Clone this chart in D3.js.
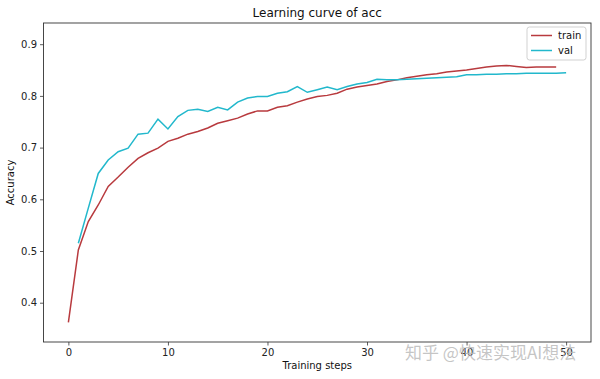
<!DOCTYPE html>
<html>
<head>
<meta charset="utf-8">
<script src="https://cdn.jsdelivr.net/npm/d3@7"></script>
<style>
  html, body { margin: 0; padding: 0; background: #fff; }
  svg { display: block; }
  text { font-family: "DejaVu Sans", sans-serif; }
</style>
</head>
<body>
<svg id="chart" width="600" height="379"></svg>
<script>
const titleText = "Learning curve of acc";
const xLabel = "Training steps";
const yLabel = "Accuracy";
const seriesNames = ["train", "val"];
const xTicks = [0, 10, 20, 30, 40, 50];
const yTicks = [0.4, 0.5, 0.6, 0.7, 0.8, 0.9];
const trainSteps = d3.range(0, 50);
const trainAcc = [0.362, 0.502, 0.557, 0.589, 0.625, 0.643, 0.662, 0.679, 0.690, 0.699,
  0.712, 0.718, 0.726, 0.731, 0.738, 0.747, 0.752, 0.757, 0.765, 0.771,
  0.771, 0.778, 0.781, 0.788, 0.794, 0.799, 0.801, 0.805, 0.813, 0.817,
  0.820, 0.823, 0.828, 0.831, 0.835, 0.838, 0.841, 0.843, 0.846, 0.848,
  0.850, 0.853, 0.856, 0.858, 0.859, 0.857, 0.855, 0.856, 0.856, 0.856];
const valSteps = d3.range(1, 51);
const valAcc = [0.515, 0.583, 0.650, 0.676, 0.692, 0.699, 0.726, 0.728, 0.755, 0.736,
  0.760, 0.772, 0.774, 0.770, 0.778, 0.773, 0.788, 0.796, 0.799, 0.799,
  0.805, 0.808, 0.818, 0.807, 0.812, 0.817, 0.812, 0.818, 0.823, 0.826,
  0.832, 0.831, 0.831, 0.832, 0.833, 0.834, 0.835, 0.836, 0.837, 0.841,
  0.841, 0.842, 0.842, 0.843, 0.843, 0.844, 0.844, 0.844, 0.844, 0.845];
const watermark = "知乎 @快速实现AI想法";

const colors = { train: "#b83a3e", val: "#22b8cc" };
const L = 43.5, R = 591, T = 23, B = 342;

const svg = d3.select("#chart");
const x = d3.scaleLinear().domain([-2.5, 52.5]).range([L, R]);
const y = d3.scaleLinear().domain([0.324, 0.941]).range([B, T]);

// axes
const xAxis = svg.append("g").attr("transform", `translate(0,${B})`)
  .call(d3.axisBottom(x).tickValues(xTicks).tickFormat(d3.format("d")).tickSize(3.5).tickPadding(3));
const yAxis = svg.append("g").attr("transform", `translate(${L},0)`)
  .call(d3.axisLeft(y).tickValues(yTicks).tickFormat(d3.format(".1f")).tickSize(3.5).tickPadding(3));
[xAxis, yAxis].forEach(g => {
  g.select(".domain").remove();
  g.selectAll("line").attr("stroke", "#333").attr("stroke-width", 0.8);
  g.selectAll("text").attr("fill", "#222").style("font-size", "10px").style("font-family", "DejaVu Sans, sans-serif");
});

// lines
const line = d3.line().x(d => x(d[0])).y(d => y(d[1]));
const trainData = trainSteps.map((s, i) => [s, trainAcc[i]]);
const valData = valSteps.map((s, i) => [s, valAcc[i]]);
svg.append("path").datum(trainData).attr("d", line)
  .attr("fill", "none").attr("stroke", colors.train).attr("stroke-width", 1.5);
svg.append("path").datum(valData).attr("d", line)
  .attr("fill", "none").attr("stroke", colors.val).attr("stroke-width", 1.5);

// frame
svg.append("rect").attr("x", L).attr("y", T).attr("width", R - L).attr("height", B - T)
  .attr("fill", "none").attr("stroke", "#333").attr("stroke-width", 0.9);

// title and labels
svg.append("text").attr("x", (L + R) / 2).attr("y", 17).attr("text-anchor", "middle")
  .style("font-size", "12px").attr("fill", "#111").text(titleText);
svg.append("text").attr("x", (L + R) / 2).attr("y", 369).attr("text-anchor", "middle")
  .style("font-size", "10px").attr("fill", "#111").text(xLabel);
svg.append("text").attr("transform", `translate(14,${(T + B) / 2}) rotate(-90)`)
  .attr("text-anchor", "middle").style("font-size", "10px").attr("fill", "#111").text(yLabel);

// legend
const lg = svg.append("g");
lg.append("rect").attr("x", 527).attr("y", 27).attr("width", 59).attr("height", 33).attr("rx", 2.5)
  .attr("fill", "#fff").attr("fill-opacity", 0.8).attr("stroke", "#ccc").attr("stroke-width", 0.9);
seriesNames.forEach((n, i) => {
  const yy = 35.5 + i * 15;
  lg.append("line").attr("x1", 531).attr("x2", 552).attr("y1", yy).attr("y2", yy)
    .attr("stroke", colors[n]).attr("stroke-width", 1.5);
  lg.append("text").attr("x", 558).attr("y", yy + 3.5).style("font-size", "10px").attr("fill", "#111").text(n);
});

// watermark
svg.append("text").attr("x", 405).attr("y", 359)
  .style("font-family", "'Noto Sans CJK SC', sans-serif").style("font-size", "17px")
  .attr("fill", "#bbb").attr("fill-opacity", 0.85).text(watermark);
</script>
</body>
</html>
